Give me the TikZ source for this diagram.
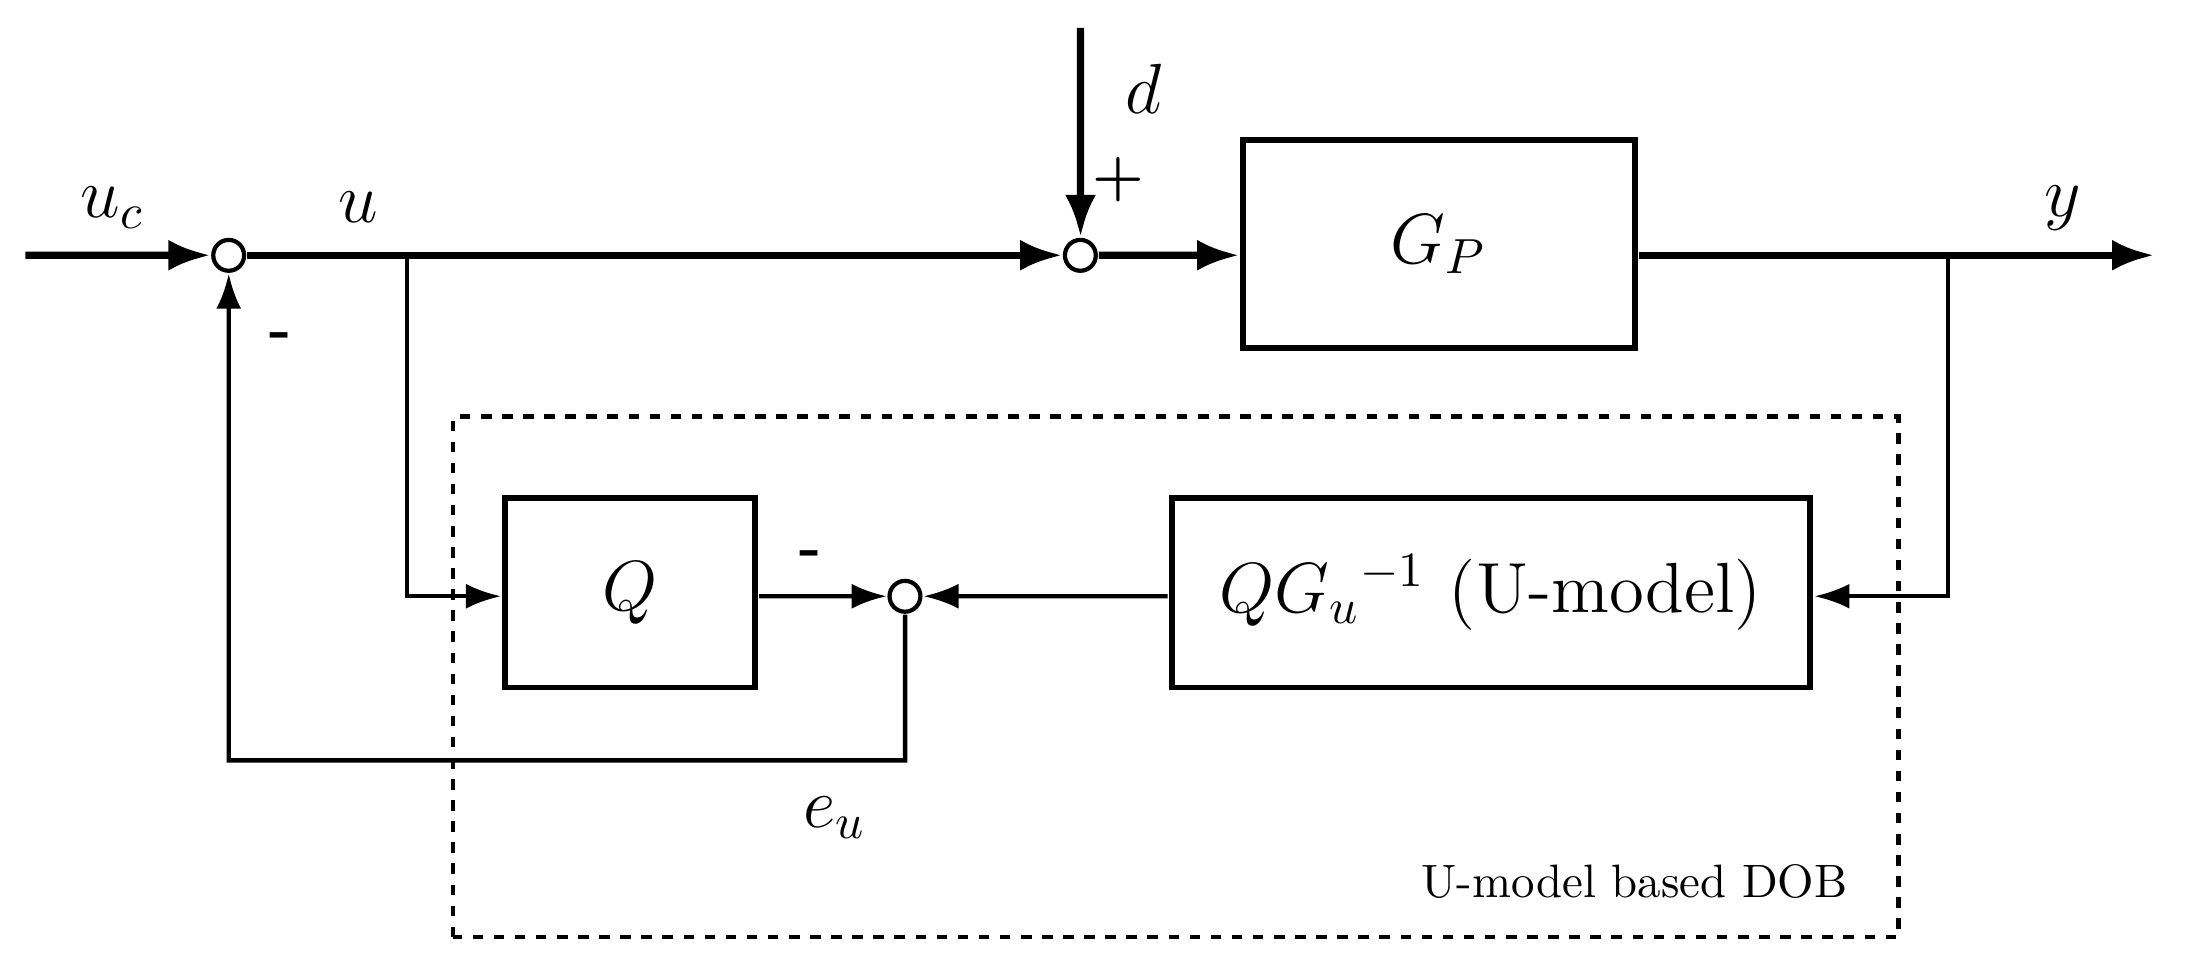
\documentclass[tikz,border=0pt]{standalone}
\usetikzlibrary{arrows.meta}
\begin{document}
\begin{tikzpicture}[scale=1.403,every node/.append style={transform shape},
  blk/.style={draw,line width=1.7pt,inner sep=0pt},
  sumc/.style={draw,circle,line width=1.2pt,minimum size=0.22cm,inner sep=0pt},
  thick/.style={line width=2.1pt,-{Latex[length=0.42cm,width=0.31cm]}},
  thin/.style={line width=1.25pt,-{Latex[length=0.35cm,width=0.25cm]}},
  lbl/.style={font=\Large}]
\useasboundingbox (0,0) rectangle (15.68,6.90);
\node[sumc] (s1) at (1.63,5.08) {};
\node[sumc] (s2) at (7.70,5.08) {};
\node[sumc] (s3) at (6.45,2.65) {};
\node[blk,minimum width=2.79cm,minimum height=1.48cm] (gp) at (10.255,5.16) {\Large $G_P$};
\node[blk,minimum width=1.78cm,minimum height=1.35cm] (q) at (4.49,2.675) {\Large $Q$};
\node[blk,minimum width=4.55cm,minimum height=1.35cm] (qg) at (10.625,2.675) {\Large $QG_u{}^{-1}$ (U-model)};
\coordinate (in) at (0.18,5.08);
\coordinate (dtop) at (7.70,6.70);
\coordinate (out) at (15.35,5.08);
\coordinate (bu) at (2.90,5.08);
\coordinate (by) at (13.88,5.08);
% main path
\draw[thick] (in) -- (s1);
\draw[thick] (s1) -- (s2);
\draw[thick] (s2) -- (gp.west |- s2);
\draw[thick] (gp.east |- s2) -- (out);
\draw[thick] (dtop) -- (s2);
% feedback
\draw[thin] (bu) |- (q.west |- s3);
\draw[thin] (q.east |- s3) -- (s3);
\draw[thin] (by) |- (qg.east |- s3);
\draw[thin] (qg.west |- s3) -- (s3);
\draw[thin] (s3) -- ++(0,-1.17) -| (s1);
% dashed box
\draw[dashed,line width=1.25pt] (3.23,0.22) rectangle (13.53,3.93);
% labels
\node[lbl] at (0.80,5.42) {$u_c$};
\node[lbl] at (2.55,5.42) {$u$};
\node[lbl] at (8.15,6.27) {$d$};
\node[font=\large\bfseries] at (7.97,5.62) {+};
\node[lbl] at (14.70,5.42) {$y$};
\node[font=\large\bfseries] at (2.00,4.47) {-};
\node[font=\large\bfseries] at (5.78,2.92) {-};
\node[lbl] at (5.95,1.07) {$e_u$};
\node[font=\fontsize{9.5}{11}\selectfont] at (11.65,0.62) {U-model based DOB};
\end{tikzpicture}
\end{document}
